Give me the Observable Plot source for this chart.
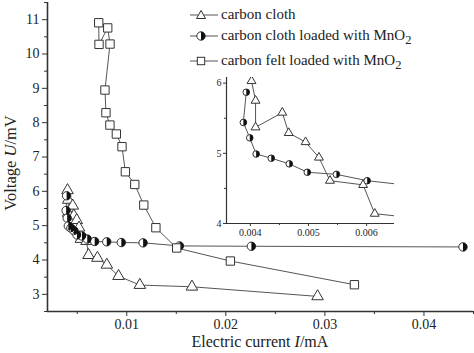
<!DOCTYPE html>
<html><head><meta charset="utf-8">
<script src="https://cdn.jsdelivr.net/npm/d3@7"></script>
<script src="https://cdn.jsdelivr.net/npm/@observablehq/plot@0.6"></script>
<style>
body{margin:0;background:#fff;}
#wrap{position:relative;width:474px;height:353px;font-family:"Liberation Serif","DejaVu Serif",serif;color:#222;}
#wrap svg, #wrap svg text{font-family:"Liberation Serif","DejaVu Serif",serif !important;}
#main text{font-size:14px;}
#inset text{font-size:10px;}
.abs{position:absolute;white-space:nowrap;}
.leg{position:absolute;left:190px;font-size:15px;line-height:16px;}
</style></head>
<body><div id="wrap"></div>
<script>
// carbon cloth (triangles)
const clothX = [0.00402,0.00409,0.00409,0.00455,0.00466,0.00495,0.00518,0.00537,0.00594,0.00614,0.00704,0.00799,0.00917,0.01132,0.01658,0.02926];
const clothY = [6.03,5.75,5.37,5.58,5.29,5.16,4.94,4.61,4.55,4.14,4.06,3.86,3.53,3.27,3.22,2.94];
// carbon cloth loaded with MnO2 (half-filled circles)
const clothMnX = [0.00393,0.00388,0.00399,0.00410,0.00436,0.00467,0.00498,0.00548,0.00601,0.00676,0.00798,0.00945,0.01165,0.01532,0.02258,0.04394];
const clothMnY = [5.87,5.44,5.22,4.99,4.93,4.85,4.73,4.70,4.61,4.54,4.53,4.51,4.50,4.41,4.40,4.38];
// carbon felt loaded with MnO2 (squares)
const feltX = [0.00717,0.00720,0.00808,0.00831,0.00780,0.00790,0.00830,0.00895,0.00952,0.00986,0.01081,0.01172,0.01294,0.01504,0.02046,0.03298];
const feltY = [10.91,10.28,10.76,10.29,8.95,8.29,7.93,7.67,7.30,6.57,6.20,5.60,4.94,4.35,3.97,3.28];

const seriesNames = ["carbon cloth","carbon cloth loaded with MnO<sub>2</sub>","carbon felt loaded with MnO<sub>2</sub>"];
const xTicks = [0.01,0.02,0.03,0.04];
const xMinor = [0.005,0.015,0.025,0.035,0.045];
const yTicks = [3,4,5,6,7,8,9,10,11];
const yMinor = [2.5,3.5,4.5,5.5,6.5,7.5,8.5,9.5,10.5,11.5];
const insetXTicks = [0.004,0.005,0.006];
const insetXMinor = [0.0045,0.0055];
const insetYTicks = [4,5,6];
const insetYMinor = [4.5,5.5];

const toRows = (xs, ys) => xs.map((x,i)=>({x, y: ys[i]}));
const cloth = toRows(clothX, clothY);
const clothMn = toRows(clothMnX, clothMnY);
const felt = toRows(feltX, feltY);

const halfRight = {draw(ctx, size){ const r = Math.sqrt(size/Math.PI); ctx.moveTo(0,-r); ctx.arc(0,0,r,-Math.PI/2,Math.PI/2); ctx.closePath(); }};
const LINE = "#555", MK = "#333";
const FONT = '"Liberation Serif", serif';

function seriesMarks(rt, rc, rs, clip){
  return [
    Plot.line(cloth,{x:"x",y:"y",stroke:LINE,strokeWidth:1,clip}),
    Plot.line(clothMn,{x:"x",y:"y",stroke:LINE,strokeWidth:1,clip}),
    Plot.line(felt,{x:"x",y:"y",stroke:LINE,strokeWidth:1,clip}),
    Plot.dot(cloth,{x:"x",y:"y",symbol:"triangle",r:rt,fill:"white",stroke:MK,strokeWidth:1,clip}),
    Plot.dot(clothMn,{x:"x",y:"y",symbol:"circle",r:rc,fill:"white",stroke:MK,strokeWidth:1,clip}),
    Plot.dot(clothMn,{x:"x",y:"y",symbol:halfRight,r:rc,fill:"#111",stroke:"none",clip}),
    Plot.dot(felt,{x:"x",y:"y",symbol:"square",r:rs,fill:"white",stroke:MK,strokeWidth:1,clip})
  ];
}

const main = Plot.plot({
  width:474, height:353,
  marginLeft:47, marginRight:1, marginTop:2, marginBottom:42,
  x:{domain:[0.002,0.045]},
  y:{domain:[2.5,11.5]},
  style:{fontSize:"14px", fontFamily:FONT, color:"#222", background:"transparent"},
  marks:[
    Plot.axisX({ticks:xTicks, tickSize:5, tickPadding:3, tickFormat:d=>String(+d.toFixed(3)), label:null, stroke:"#333", fontFamily:FONT, fontSize:14}),
    Plot.axisX({ticks:xMinor, tickSize:3, text:null, label:null, stroke:"#333"}),
    Plot.axisY({ticks:yTicks, tickSize:5, tickPadding:3, tickFormat:d=>String(d), label:null, stroke:"#333", fontFamily:FONT, fontSize:14}),
    Plot.axisY({ticks:yMinor, tickSize:3, text:null, label:null, stroke:"#333"}),
    Plot.ruleY([2.5],{stroke:"#333",strokeWidth:1.6}),
    Plot.ruleX([0.002],{stroke:"#333",strokeWidth:1.6}),
    ...seriesMarks(4.3,4.2,4.7,true)
  ]
});

const inset = Plot.plot({
  width:200, height:175,
  marginLeft:30, marginRight:2, marginTop:7, marginBottom:22,
  x:{domain:[0.00359,0.00648]},
  y:{domain:[4,6.08]},
  style:{fontSize:"10px", fontFamily:FONT, color:"#222", background:"transparent"},
  marks:[
    Plot.axisX({ticks:insetXTicks, tickSize:3, tickPadding:2, tickFormat:d=>d.toFixed(3), label:null, stroke:"#333", fontFamily:FONT, fontSize:10}),
    Plot.axisX({ticks:insetXMinor, tickSize:2, text:null, label:null, stroke:"#333"}),
    Plot.axisY({ticks:insetYTicks, tickSize:3, tickPadding:2, tickFormat:d=>String(d), label:null, stroke:"#333", fontFamily:FONT, fontSize:10}),
    Plot.axisY({ticks:insetYMinor, tickSize:2, text:null, label:null, stroke:"#333"}),
    Plot.ruleY([4],{stroke:"#333",strokeWidth:1.2}),
    Plot.ruleX([0.00359],{stroke:"#333",strokeWidth:1.2}),
    ...seriesMarks(3.3,3.3,3.6,true)
  ]
});

const wrap = document.getElementById("wrap");
main.id = "main"; inset.id = "inset";
main.style.position="absolute"; main.style.left="0px"; main.style.top="0px";
inset.style.position="absolute"; inset.style.left="196px"; inset.style.top="70px";
wrap.appendChild(main);
wrap.appendChild(inset);

// axis titles
const xl = document.createElement("div");
xl.className="abs"; xl.style.fontSize="16px";
xl.innerHTML = "Electric current <i>I</i>/mA";
wrap.appendChild(xl);
xl.style.left = (260 - xl.offsetWidth/2)+"px"; xl.style.top = "333px";
const yl = document.createElement("div");
yl.className="abs"; yl.style.fontSize="16.5px";
yl.innerHTML = "Voltage <i>U</i>/mV";
wrap.appendChild(yl);
yl.style.left = (11 - yl.offsetWidth/2)+"px"; yl.style.top = (163 - yl.offsetHeight/2)+"px";
yl.style.transform = "rotate(-90deg)";

// legend
const legSym = [
  '<polygon points="11,1.5 15.5,9.5 6.5,9.5" fill="white" stroke="#333"/>',
  '<circle cx="11" cy="6" r="4.2" fill="white" stroke="#333"/><path d="M11,1.8 A4.2,4.2 0 0 1 11,10.2 Z" fill="#111"/>',
  '<rect x="7.3" y="2.3" width="7.4" height="7.4" fill="white" stroke="#333"/>'
];
const legY = [14, 35, 60];
seriesNames.forEach((name,i)=>{
  const d = document.createElement("div");
  d.className="leg";
  d.style.top = (legY[i]-8)+"px";
  d.innerHTML = '<svg width="28" height="12" style="vertical-align:middle;margin-right:3px;position:relative;top:-1px">'
    + '<line x1="0" y1="6" x2="28" y2="6" stroke="#555"/>' + legSym[i] + '</svg>' + name;
  wrap.appendChild(d);
});
</script></body></html>
